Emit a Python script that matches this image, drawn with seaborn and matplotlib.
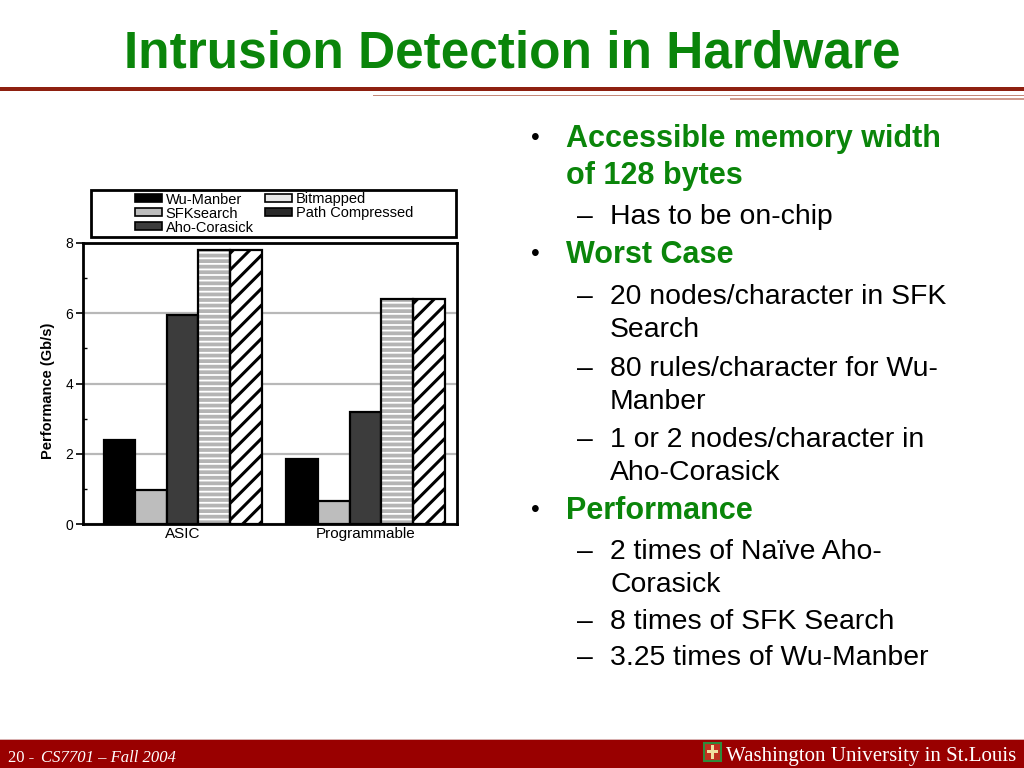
import matplotlib
matplotlib.use("Agg")
import matplotlib.pyplot as plt
import seaborn as sns
import pandas as pd
from matplotlib.patches import Rectangle, Patch

# ---------------- data ----------------
platforms = ["ASIC", "Programmable"]
algorithms = ["Wu-Manber", "SFKsearch", "Aho-Corasick", "Bitmapped", "Path Compressed"]
asic_perf = [2.4, 0.97, 5.95, 7.8, 7.8]
programmable_perf = [1.85, 0.65, 3.2, 6.4, 6.4]
y_ticks = [0, 2, 4, 6, 8]
y_label = "Performance (Gb/s)"

title = "Intrusion Detection in Hardware"
bullet_lines = [
    # (kind, text, baseline_px)
    ("main", "Accessible memory width", 147),
    ("cont", "of 128 bytes", 184),
    ("sub", "Has to be on-chip", 224),
    ("main", "Worst Case", 263),
    ("sub", "20 nodes/character in SFK", 304),
    ("subc", "Search", 337),
    ("sub", "80 rules/character for Wu-", 376),
    ("subc", "Manber", 409),
    ("sub", "1 or 2 nodes/character in", 447),
    ("subc", "Aho-Corasick", 480),
    ("main", "Performance", 519),
    ("sub", "2 times of Naïve Aho-", 559),
    ("subc", "Corasick", 592),
    ("sub", "8 times of SFK Search", 629),
    ("sub", "3.25 times of Wu-Manber", 665),
]
footer_num = "20 - "
footer_course = "CS7701 – Fall 2004"
footer_univ = "Washington University in St.Louis"

# ---------------- setup ----------------
W, H = 1024, 768
plt.rcParams["font.family"] = ["Liberation Sans", "DejaVu Sans"]
plt.rcParams["hatch.linewidth"] = 1.8

fig = plt.figure(figsize=(W / 100, H / 100), dpi=100)
fig.patch.set_facecolor("white")


def fx(x):
    return x / W


def fy(y):
    return 1 - y / H


GREEN = "#0a850a"

# title
fig.text(fx(512), fy(68), title, ha="center", va="baseline", color=GREEN,
         fontsize=37, fontweight="bold")

# header rules
fig.add_artist(Rectangle((0, fy(91)), 1, 4 / H, transform=fig.transFigure,
                         facecolor="#8e2010", edgecolor="none"))
fig.add_artist(Rectangle((fx(373), fy(96)), 1 - fx(373), 1.5 / H, transform=fig.transFigure,
                         facecolor="#c48878", edgecolor="none"))
fig.add_artist(Rectangle((fx(730), fy(99.5)), 1 - fx(730), 1.5 / H, transform=fig.transFigure,
                         facecolor="#d09a8c", edgecolor="none"))

# footer
fig.add_artist(Rectangle((0, 0), 1, 28 / H, transform=fig.transFigure,
                         facecolor="#990000", edgecolor="none"))
fig.add_artist(Rectangle((0, fy(740)), 1, 1.5 / H, transform=fig.transFigure,
                         facecolor="#d8b0b0", edgecolor="none"))
fig.text(fx(8), fy(762), footer_num, ha="left", va="baseline", color="white",
         fontsize=12, family="Liberation Serif")
fig.text(fx(41), fy(762), footer_course, ha="left", va="baseline", color="white",
         fontsize=12, family="Liberation Serif", style="italic")
fig.text(fx(1016), fy(761), footer_univ, ha="right", va="baseline", color="white",
         fontsize=15, family="Liberation Serif")
# small shield logo
fig.add_artist(Rectangle((fx(704), fy(761)), 17 / W, 18 / H, transform=fig.transFigure,
                         facecolor="#c03020", edgecolor="#2e8b3a", linewidth=1.5))
fig.add_artist(Rectangle((fx(707), fy(753)), 11 / W, 3 / H, transform=fig.transFigure,
                         facecolor="#f0e0a0", edgecolor="none"))
fig.add_artist(Rectangle((fx(711), fy(759)), 3 / W, 14 / H, transform=fig.transFigure,
                         facecolor="#f0e0a0", edgecolor="none"))

# bullets text
for kind, text, base in bullet_lines:
    if kind in ("main", "cont"):
        if kind == "main":
            fig.text(fx(531), fy(base - 2), "•", ha="left", va="baseline", color="black",
                     fontsize=18)
        fig.text(fx(566), fy(base), text, ha="left", va="baseline", color=GREEN,
                 fontsize=22, fontweight="bold")
    else:
        if kind == "sub":
            fig.text(fx(577), fy(base), "–", ha="left", va="baseline", color="black",
                     fontsize=20.4)
        fig.text(fx(610), fy(base), text, ha="left", va="baseline", color="black",
                 fontsize=20.4)

# ---------------- chart ----------------
ax = fig.add_axes([fx(83), fy(524), 374 / W, 281 / H])

df = pd.DataFrame({
    "platform": [p for p in platforms for _ in algorithms],
    "algorithm": algorithms * len(platforms),
    "perf": asic_perf + programmable_perf,
})
palette = {
    "Wu-Manber": "#000000",
    "SFKsearch": "#bdbdbd",
    "Aho-Corasick": "#3c3c3c",
    "Bitmapped": "#b4b4b4",
    "Path Compressed": "#ffffff",
}
sns.barplot(data=df, x="platform", y="perf", hue="algorithm", order=platforms,
            hue_order=algorithms, palette=palette, saturation=1, width=0.865, gap=0,
            edgecolor="black", linewidth=1.6, errorbar=None, legend=False, ax=ax,
            zorder=3)

# styling of hatched series
for bar in ax.containers[3]:
    bar.set_edgecolor("white")
    bar.set_hatch("---")
    if hasattr(bar, "set_hatch_linewidth"):
        bar.set_hatch_linewidth(1.3)
    bar.set_linewidth(0)
    ax.add_patch(Rectangle(bar.get_xy(), bar.get_width(), bar.get_height(),
                           facecolor="none", edgecolor="black", linewidth=1.6, zorder=4))
for bar in ax.containers[4]:
    bar.set_hatch("//")
    if hasattr(bar, "set_hatch_linewidth"):
        bar.set_hatch_linewidth(2.2)

ax.set_xlim(-0.545, 1.5)
ax.set_ylim(0, 8)
ax.set_yticks(y_ticks)
ax.set_yticks([1, 3, 5, 7], minor=True)
ax.yaxis.grid(True, which="major", color="#b8b8b8", linewidth=1.6)
ax.set_axisbelow(True)
ax.tick_params(axis="y", which="major", direction="out", length=5, width=1.2,
               labelsize=10, pad=2)
ax.tick_params(axis="y", which="minor", direction="in", length=3, width=1.0)
ax.tick_params(axis="x", length=0, labelsize=11, pad=2.5)
for s in ax.spines.values():
    s.set_linewidth(2)
    s.set_color("black")
ax.set_xlabel("")
ax.set_ylabel(y_label, fontsize=10.5, fontweight="bold")
ax.yaxis.set_label_coords(-0.075, 0.475)

# legend box
fig.add_artist(Rectangle((fx(91), fy(237)), 365 / W, 47 / H, transform=fig.transFigure,
                         facecolor="white", edgecolor="black", linewidth=2))
legend_faces = ["#000000", "#bdbdbd", "#3c3c3c", "#e6e6e6", "#2a2a2a"]
handles = [Patch(facecolor=c, edgecolor="black", linewidth=1.2) for c in legend_faces]
fig.legend(handles, algorithms, ncol=2, loc="center", bbox_to_anchor=(fx(274), fy(213.5)),
           frameon=False, fontsize=10.5, handlelength=1.85, handleheight=0.5,
           labelspacing=0.0, columnspacing=0.8, handletextpad=0.25, borderpad=0)

fig.savefig("out.png", dpi=100)
